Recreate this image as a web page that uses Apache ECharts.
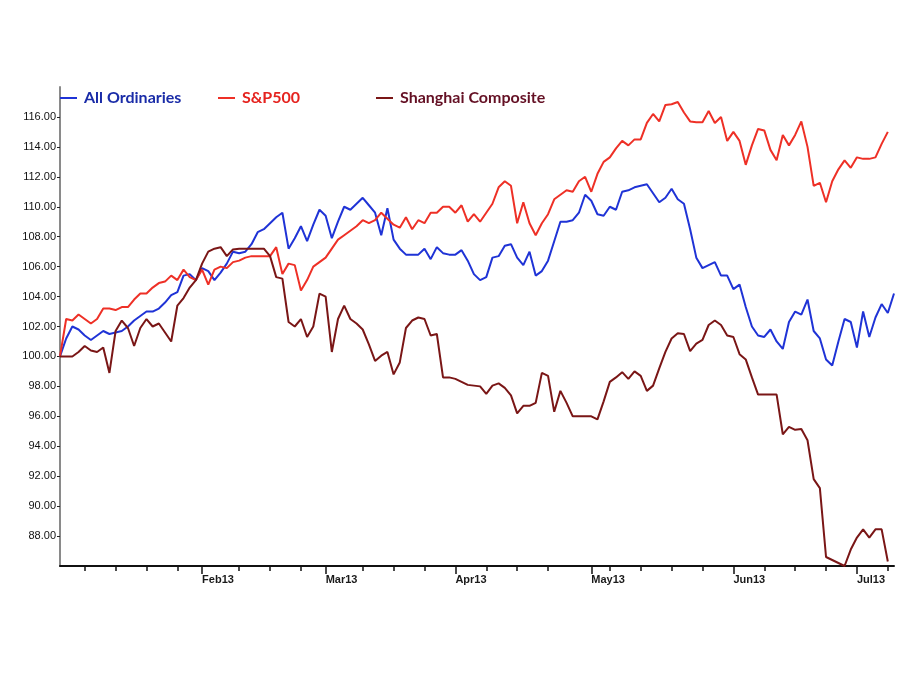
<!DOCTYPE html>
<html>
<head>
<meta charset="utf-8">
<script src="https://cdn.jsdelivr.net/npm/echarts@6/dist/echarts.min.js"></script>
<style>
  html, body { margin: 0; padding: 0; background: #ffffff; }
  #chart { width: 900px; height: 675px; }
</style>
</head>
<body>
<div id="chart"></div>
<script>
// trading days Jan 1 2013 .. Jul 9 2013 (weekdays)
const startDate = Date.UTC(2013, 0, 1);
const endDate = Date.UTC(2013, 6, 9);
const monthTickLabels = ["Jan13", "Feb13", "Mar13", "Apr13", "May13", "Jun13", "Jul13"];
const yTickValues = [88, 90, 92, 94, 96, 98, 100, 102, 104, 106, 108, 110, 112, 114, 116];

const allOrdinaries = [
  100.0, 101.2, 102.0, 101.8, 101.4, 101.1, 101.4, 101.7, 101.5, 101.6,
  101.7, 102.0, 102.4, 102.7, 103.0, 103.0, 103.2, 103.6, 104.1, 104.3,
  105.4, 105.5, 105.1, 105.9, 105.7, 105.1, 105.6, 106.2, 107.0, 106.9,
  107.0, 107.5, 108.3, 108.5, 108.9, 109.3, 109.6, 107.2, 107.9, 108.7,
  107.7, 108.8, 109.8, 109.4, 107.9, 109.0, 110.0, 109.8, 110.2, 110.6,
  110.1, 109.6, 108.1, 109.9, 107.8, 107.2, 106.8, 106.8, 106.8, 107.2,
  106.5, 107.3, 106.9, 106.8, 106.8, 107.1, 106.4, 105.5, 105.1, 105.3,
  106.6, 106.7, 107.4, 107.5, 106.6, 106.1, 107.0, 105.4, 105.7, 106.4,
  107.7, 109.0, 109.0, 109.1, 109.6, 110.8, 110.4, 109.5, 109.4, 110.0,
  109.8, 111.0, 111.1, 111.3, 111.4, 111.5, 110.9, 110.3, 110.6, 111.2,
  110.5, 110.2, 108.5, 106.6, 105.9, 106.1, 106.3, 105.4, 105.4, 104.5,
  104.8, 103.3, 102.0, 101.4, 101.3, 101.8, 101.0, 100.5, 102.3, 103.0,
  102.8, 103.8, 101.7, 101.2, 99.8, 99.4, 101.0, 102.5, 102.3, 100.6,
  103.0, 101.3, 102.6, 103.5, 102.9, 104.2
];

const sp500 = [
  100.0, 102.5, 102.4, 102.8, 102.5, 102.2, 102.5, 103.2, 103.2, 103.1,
  103.3, 103.3, 103.8, 104.2, 104.2, 104.6, 104.9, 105.0, 105.4, 105.1,
  105.8, 105.3, 105.1, 105.8, 104.8, 105.8, 106.0, 105.9, 106.3, 106.4,
  106.6, 106.7, 106.7, 106.7, 106.7, 107.3, 105.5, 106.2, 106.1, 104.4,
  105.1, 106.0, 106.3, 106.6, 107.2, 107.8, 108.1, 108.4, 108.7, 109.1,
  108.9, 109.1, 109.6, 109.2, 108.8, 108.6, 109.3, 108.5, 109.1, 108.9,
  109.6, 109.6, 110.0, 110.0, 109.6, 110.1, 109.0, 109.5, 109.0, 109.6,
  110.2, 111.3, 111.7, 111.4, 108.9, 110.3, 108.9, 108.1, 108.9, 109.5,
  110.5, 110.8, 111.1, 111.0, 111.7, 112.0, 111.0, 112.2, 113.0, 113.3,
  113.9, 114.4, 114.1, 114.5, 114.5, 115.6, 116.2, 115.7, 116.8, 116.85,
  117.0, 116.3, 115.7, 115.65, 115.65, 116.4, 115.6, 116.0, 114.4, 115.0,
  114.4, 112.8, 114.1, 115.2, 115.1, 113.8, 113.1, 114.8, 114.1, 114.8,
  115.7, 114.0, 111.4, 111.6, 110.3, 111.7, 112.5, 113.1, 112.6, 113.3,
  113.2, 113.2, 113.3, 114.2, 115.0, null
];

const shanghai = [
  100.0, 100.0, 100.0, 100.3, 100.7, 100.4, 100.3, 100.6, 98.9, 101.7,
  102.4, 101.9, 100.7, 101.9, 102.5, 102.0, 102.2, 101.6, 101.0, 103.4,
  103.9, 104.6, 105.1, 106.2, 107.0, 107.2, 107.3, 106.7, 107.15, 107.2,
  107.2, 107.2, 107.2, 107.2, 106.7, 105.3, 105.2, 102.3, 102.0, 102.5,
  101.3, 102.0, 104.2, 104.0, 100.3, 102.5, 103.4, 102.5, 102.2, 101.8,
  100.8, 99.7, 100.05, 100.3, 98.8, 99.6, 101.9, 102.4, 102.6, 102.5,
  101.4, 101.5, 98.6, 98.6, 98.5, 98.3, 98.1, 98.05, 98.0, 97.5,
  98.05, 98.2, 97.9, 97.4, 96.2, 96.7, 96.7, 96.9, 98.9, 98.7,
  96.3, 97.7, 96.9, 96.0, 96.0, 96.0, 96.0, 95.8, 97.0, 98.3,
  98.6, 98.95, 98.5, 99.0, 98.7, 97.7, 98.05, 99.2, 100.3, 101.2,
  101.55, 101.5, 100.35, 100.85, 101.1, 102.1, 102.4, 102.1, 101.4, 101.3,
  100.15, 99.8, 98.6, 97.45, 97.45, 97.45, 97.45, 94.8, 95.3, 95.1,
  95.15, 94.4, 91.8, 91.2, 86.6, 86.4, 86.2, 86.0, 87.1, 87.9,
  88.45, 87.9, 88.45, 88.45, 86.3, null
];

const buildTradingDays = (from, to) => {
  const days = [];
  for (let t = from; t <= to; t += 86400000) {
    const d = new Date(t);
    const wd = d.getUTCDay();
    if (wd !== 0 && wd !== 6) days.push(d);
  }
  return days;
};

const days = buildTradingDays(startDate, endDate);
const categories = days.map((d) => d.toISOString().slice(0, 10));

const monthStarts = new Set();
days.forEach((d, i) => {
  if (i > 0 && d.getUTCMonth() !== days[i - 1].getUTCMonth()) monthStarts.add(i);
});

// weekly ticks on Mondays, dropped when a month tick sits close by
const isWeekTick = (i) => {
  if (days[i].getUTCDay() !== 1) return false;
  for (const m of monthStarts) {
    if (Math.abs(m - i) <= 2) return false;
  }
  return true;
};

const makeSeries = (name, data, color) => ({
  name,
  type: "line",
  data,
  symbol: "none",
  connectNulls: false,
  lineStyle: { color, width: 2 },
  itemStyle: { color },
});

const makeLegend = (name, left, textColor) => ({
  data: [name],
  left,
  top: 85,
  icon: "rect",
  itemWidth: 17,
  itemHeight: 2,
  textStyle: {
    color: textColor,
    fontFamily: "Lato",
    fontWeight: "bold",
    fontSize: 16,
    padding: [0, 0, 0, 2],
  },
});

const chart = echarts.init(document.getElementById("chart"), null, { renderer: "canvas" });

chart.setOption({
  animation: false,
  backgroundColor: "#ffffff",
  grid: { left: 60, right: 6, top: 87, bottom: 109 },
  legend: [
    makeLegend("All Ordinaries", 55, "#1a2ca8"),
    makeLegend("S&P500", 213, "#e5231f"),
    makeLegend("Shanghai Composite", 371, "#641024"),
  ],
  xAxis: [
    {
      type: "category",
      data: categories,
      boundaryGap: false,
      axisLine: { lineStyle: { color: "#111", width: 2 } },
      axisTick: { length: 5, interval: (i) => isWeekTick(i), lineStyle: { color: "#111", width: 1.5 } },
      axisLabel: { show: false },
      splitLine: { show: false },
    },
    {
      type: "category",
      data: categories,
      boundaryGap: false,
      position: "bottom",
      axisLine: { show: false },
      axisTick: { length: 8, interval: (i) => monthStarts.has(i), lineStyle: { color: "#111", width: 1.5 } },
      axisLabel: {
        interval: (i) => monthStarts.has(i),
        formatter: (v) => monthTickLabels[Number(v.slice(5, 7)) - 1],
        align: "left",
        margin: 8,
        color: "#1a1a1a",
        fontFamily: "Liberation Sans",
        fontWeight: "bold",
        fontSize: 11,
      },
      splitLine: { show: false },
    },
  ],
  yAxis: {
    type: "value",
    min: 86,
    max: 118,
    interval: 2,
    axisLine: { show: true, lineStyle: { color: "#8a8a8a", width: 2 } },
    axisTick: { show: true, length: 3, customValues: yTickValues, lineStyle: { color: "#222" } },
    axisLabel: {
      customValues: yTickValues,
      formatter: (v) => v.toFixed(2),
      margin: 4,
      color: "#111",
      fontFamily: "Liberation Sans",
      fontSize: 11,
    },
    splitLine: { show: false },
  },
  series: [
    makeSeries("All Ordinaries", allOrdinaries, "#1f33d6"),
    makeSeries("S&P500", sp500, "#ee3026"),
    makeSeries("Shanghai Composite", shanghai, "#7a1616"),
  ],
});
</script>
</body>
</html>
